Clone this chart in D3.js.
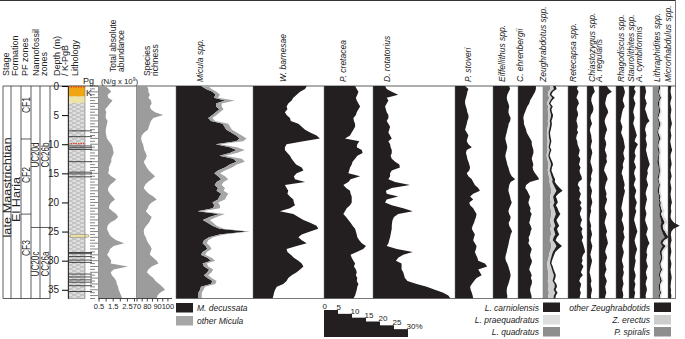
<!DOCTYPE html>
<html>
<head>
<meta charset="utf-8">
<script src="https://cdn.jsdelivr.net/npm/d3@7"></script>
<style>
  body { margin: 0; background: #fff; }
  svg { font-family: "Liberation Sans", Arial, sans-serif; }
</style>
</head>
<body>
<script>
// sample depths (m below K-PgB)
const depths = [0,0.5,1,1.5,2,2.5,3,3.5,4,4.5,5,5.5,6,6.5,7,7.5,8,8.5,9,9.5,
  10,10.5,11,11.5,12,12.5,13,13.5,14,14.5,15,15.5,16,16.5,17,17.5,18,18.5,19,19.5,
  20,20.5,21,21.5,22,22.5,23,23.5,24,24.5,25,25.5,26,26.5,27,27.5,28,28.5,29,29.5,
  30,30.5,31,31.5,32,32.5,33,33.5,34,34.5,35,35.5,36,36.5];

// total absolute abundance (N/g x 10^9)
const abundance = [0.97,1.23,1.4,1.14,1.18,1.49,1.31,1.14,0.97,1.05,
  1.01,1.01,1.14,1.1,1.05,1.01,1.01,1.05,1.1,1.23,
  1.4,1.49,1.53,1.57,1.49,1.4,1.4,1.31,1.23,1.23,
  1.18,1.4,1.75,1.57,1.31,1.18,1.18,1.31,1.49,1.66,
  1.4,1.27,1.23,1.49,1.75,1.88,1.66,1.31,1.14,1.1,
  1.18,1.27,1.44,1.75,2.31,1.57,1.31,1.23,1.1,1.27,
  1.4,1.36,2.57,1.57,1.36,1.44,1.62,1.75,1.79,1.88,
  1.92,2.01,2.09,2.18];

const richness = [80,81.5,81.5,83,81.5,84,84.7,83,84,88,
  96,86.3,84,83,82,81,77.5,75,74.5,75,
  76.3,77,77.5,79,80,79,77,78.3,80,82,
  84.7,88,84.7,81,78.3,77,79,82,86.3,89.6,
  84.7,82,81,79,81.5,84.7,83.5,82,79.5,77.5,
  77,77.5,79,80,81.5,83.5,84.7,83.5,83,86.3,
  89.6,91.2,84.7,81.5,80,83,86.3,88.5,92,95,
  97.7,92.8,90.4,89.6];

// relative abundances (%)
const mDecussata = [9,10.7,13,14.2,13.5,17.5,14.3,14.3,15.5,14.2,
  13,11.5,12.5,16.7,17.3,18,19.7,21.5,22.7,21.5,
  14.2,19.2,21.6,19.2,15.5,20.5,21.6,19.2,17.5,15,
  13.7,15,16.2,14.5,13.8,15,14.5,16.2,15.5,15,
  13,13.7,13.2,7.7,15.5,12,9.6,11.3,13,15.5,
  25.4,15.5,11.8,10,9.5,10.6,11.2,9.5,8.9,11.2,
  12.5,9.5,10,11.8,11.2,10,11.2,13,12.5,8.9,
  8.6,8,8,8];
const otherMicula = [2.5,2,1.5,1.5,1.5,3.5,2,2,1.5,1.5,
  1.5,1.5,1.5,2,2,2,2,2,2.5,2.5,
  1.5,2.5,3,2.5,2,3,3,2.5,2.5,2.5,
  2,2.5,2.5,2.5,2.5,2.5,2.5,2.5,2.5,2.5,
  2,2,2.5,1.5,2,2.5,2.5,2,1.5,1.5,
  1,1.5,1.5,1.5,1.5,1.5,1.5,1.5,1.5,1.5,
  1.5,1.5,1.5,1.5,1.5,1.5,1.5,1.5,1.5,1.5,
  1.2,1.2,1.2,1.2];
const wBarnesae = [19.2,18.6,16.8,15.6,14.4,13.8,12.6,12,12.3,11.4,
  12,13.2,13.5,16.2,17.4,18.6,20.4,22.7,23.9,18,
  12,11.4,11.4,12.3,13.2,13.8,14.6,15.4,17.4,18,
  15.6,14.6,15,18.6,11.4,12,12.6,12.3,13.2,14.4,
  14.6,15,13.2,9.6,14.4,16.2,18,20.4,22.7,23.3,
  20.4,17.4,16.2,17.4,19.2,15.6,12,12.3,13.5,14.6,
  16.2,17.4,18,16.8,15.6,13.8,12.6,12,10.8,8.5,
  7.9,7.5,7.3,7];
const pCretacea = [11.1,11.7,12.3,11.9,11.4,11.7,12.3,12.9,12.3,11.7,
  11.4,10.5,10.7,11.1,11.1,10.5,9.9,9.3,7.5,12.6,
  11.9,11.7,13.5,13.8,11.9,11.1,10.2,9.9,9.3,9,
  8.7,12.9,9.5,8.7,6.9,7.9,9.3,9.5,9.9,9.9,
  9.9,9.3,8.1,7.5,6.9,7.9,8.7,9.5,10.2,11.1,
  11.4,11.7,11.9,12.6,13.5,15,14,11.7,9.5,9.9,
  10.5,11.1,10.7,11.4,11.7,11.4,11.9,11.7,12.3,11.9,
  11.7,11.4,11.1,10.5];
const dRotatorius = [4.3,4.9,6.7,9,4.9,5.5,4.9,4.3,4.6,4.9,
  5.5,5.5,4.9,5.5,6.1,5.8,5.5,6.1,6.7,5.5,
  6.1,6.3,6.7,6.7,6.3,6.7,7.9,9.4,9.6,6.7,
  6.1,6.1,5.5,7.9,13.2,6.7,4.6,4.9,9,4.9,
  4.3,6.7,10.8,14.2,9,7.5,7,6.8,6.7,6.7,
  6.5,6.3,6.1,5.8,5.5,4.9,8.5,14.2,10.8,9,
  8.2,10.2,10.2,10.2,10.8,11.1,11.4,12.3,15.6,19.2,
  22.1,25.1,26.9,27.7];
const pStoveri = [3.6,4.8,4.4,4.2,3.9,3.6,3.6,3.9,4.2,4.4,
  4.8,4.8,4.4,4.2,3.9,3.6,4.2,4.8,4.4,4.2,
  4.8,6,4.2,3.9,4.2,4.4,4.8,5.1,5.4,5.1,
  4.2,4.8,6,6.5,7.1,8.3,8.9,6.5,5.4,6.5,
  5.1,5.4,6.5,7.1,7.7,7.5,7.1,6.8,6.3,6,
  6.5,7.1,6.8,6.5,7.1,7.7,7.5,7.1,7.5,8,
  8.3,10.7,11.5,8.3,8.9,9.5,7.7,6.8,6,5.4,
  5.6,6,6.3,6.5];
const eiffellithus = [5.8,6.1,5.6,5.1,4.9,5.1,5.5,5.8,5.6,5.5,
  5.8,6.3,6.1,5.6,5.4,5.1,4.9,4.6,4.4,4.6,
  4.9,5.1,4.9,4.6,4.4,4.6,4.9,5.1,5.5,5.8,
  6.1,6.7,7.9,6.3,5.8,5.6,5.5,5.8,6.1,6.3,
  6.7,6.3,5.8,5.5,5.8,6.3,6.1,5.6,5.8,6.4,
  6.8,6.3,6.1,5.8,5.6,5.4,5.1,4.9,4.6,4.4,
  4.6,5.1,5.5,5.8,6.1,6.3,6.1,5.8,5.5,5.1,
  4.9,4.9,5.1,5.1];
const cEhrenbergii = [6.4,6.4,6.1,5.5,4.9,4.3,4,3.3,2.9,2.5,
  2.1,1.9,2.1,2.1,2.5,2.9,3.1,3.7,4.3,4.9,
  4.9,5.2,5.5,5.5,5.2,4.9,5.2,5.5,5.2,5.5,
  6.1,6.9,7.6,4.3,2.9,2.6,3.3,3.8,4.3,4,
  3.7,4,4.5,4.3,4.9,4.5,4.3,4,4.5,4.9,
  4.5,4.3,3.8,4,3.7,4.3,4.9,4.6,4.3,4.5,
  5,4.8,4.3,4,4.5,4.9,4.6,5,4.9,4.5,
  4.3,4.5,4.8,4.9];
const pSpiralis = [2.5,2.7,1.9,1.7,2.3,1.8,1.4,1.9,1.7,1.8,
  2.0,1.9,1.7,1.8,1.7,1.5,1.4,1.4,1.5,1.7,
  1.5,1.4,1.7,1.4,1.3,1.5,1.8,2.0,1.8,1.7,
  1.9,2.1,2.4,2.3,2.6,2.8,3.0,2.8,2.5,2.6,
  2.8,2.5,2.7,2.9,3.0,2.8,2.6,2.7,2.9,2.6,
  2.8,2.9,2.6,2.4,2.9,3.0,2.8,2.4,2.2,2.0,
  1.7,1.5,1.6,1.7,1.8,1.9,1.8,1.7,2.0,2.0,
  1.9,2.1,1.9,1.8];
const zErectus = [1.1,1.2,0.9,0.7,1.0,0.8,0.7,0.9,0.7,0.8,
  0.9,0.8,0.7,0.8,0.7,0.7,0.6,0.7,0.7,0.7,
  0.7,0.6,0.7,0.7,0.6,0.7,0.8,0.9,0.8,0.7,
  0.8,0.9,1.0,1.0,1.2,1.5,1.8,1.4,1.1,1.2,
  1.3,1.1,1.3,1.4,1.6,1.4,1.2,1.3,1.5,1.2,
  1.3,1.5,1.2,1.1,1.4,1.8,1.4,1.1,1.0,0.9,
  0.9,1.0,1.3,1.5,1.7,2.0,1.9,1.7,2.1,2.2,
  1.9,2.3,2.0,1.9];
const otherZeugh = [0.9,1.0,0.7,0.6,0.9,0.6,0.5,0.7,0.6,0.6,
  0.7,0.7,0.6,0.6,0.6,0.6,0.5,0.5,0.6,0.6,
  0.5,0.5,0.6,0.5,0.5,0.6,0.7,0.7,0.6,0.6,
  0.7,0.8,0.9,0.9,1.2,1.7,2.2,1.3,1.0,1.2,
  1.2,1.0,1.2,1.3,1.6,1.3,1.0,1.2,1.4,1.2,
  1.2,1.4,1.2,1.0,1.3,2.0,1.3,0.9,0.8,0.7,
  0.6,0.5,0.6,0.6,0.7,0.7,0.7,0.6,0.7,0.8,
  0.7,0.8,0.7,0.7];
const retecapsa = [3.5,3.2,3.8,3.4,3.0,3.6,3.9,3.3,3.1,3.5,
  3.6,3.2,3.0,3.3,3.5,3.2,3.6,3.1,2.9,3.3,
  3.4,3.8,4.2,4.0,3.7,4.4,4.2,3.9,4.5,4.1,
  4.3,4.8,5.0,3.8,3.5,4.2,4.0,4.6,4.3,4.0,
  4.8,4.3,4.9,4.5,4.2,4.6,5.0,4.6,4.4,5.2,
  4.8,5.0,5.4,4.9,5.3,5.6,5.9,6.1,5.4,5.0,
  5.2,4.8,5.5,5.0,4.6,5.3,4.4,4.0,4.7,4.5,
  4.2,4.6,4.3,4.1];
const chiastozygus = [2.2,2.5,2.8,2.0,1.6,1.5,1.8,2.2,2.3,2.0,
  1.4,1.2,1.5,1.8,1.3,1.0,1.2,1.5,1.6,1.8,
  1.5,1.3,1.7,1.9,1.6,1.4,1.2,1.5,1.8,2.0,
  1.7,1.4,1.6,1.3,1.1,1.5,1.8,1.6,1.4,1.7,
  1.9,1.6,1.3,1.5,1.2,1.0,0.9,1.2,1.5,1.3,
  1.6,1.8,1.5,1.3,1.6,1.9,1.7,1.4,1.2,1.5,
  1.8,1.6,1.3,1.1,0.9,1.2,1.4,1.6,1.3,1.5,
  1.8,1.6,1.4,1.5];
const aRegularis = [2.8,3.5,4.6,3.0,2.6,2.4,2.2,2.5,3.0,3.3,
  2.8,2.3,2.0,2.2,2.6,2.9,2.5,2.2,2.0,2.4,
  2.6,2.3,2.1,2.5,2.8,2.6,2.9,2.4,2.0,1.8,
  2.3,2.8,3.1,2.6,2.3,2.1,2.4,2.7,2.5,2.9,
  2.6,2.2,2.0,2.4,2.8,2.5,2.2,2.0,2.3,2.6,
  2.9,2.5,2.7,3.0,3.2,2.8,2.4,2.2,2.6,2.9,
  2.5,2.2,2.4,2.7,2.3,2.0,2.4,2.8,2.5,2.2,
  2.4,2.6,2.3,2.1];
const rhagodiscus = [2.6,2.9,3.2,3.0,2.6,2.4,2.8,3.1,2.5,2.2,
  2.0,1.8,1.6,1.9,2.3,2.1,1.8,2.2,2.6,2.8,
  3.0,3.2,2.9,2.6,2.8,3.1,2.7,2.4,2.6,2.2,
  2.0,2.4,2.6,2.9,3.1,2.8,3.2,3.0,2.7,2.5,
  2.3,2.1,1.9,2.2,2.5,2.3,2.0,2.4,2.7,2.9,
  2.6,2.8,3.1,2.7,2.4,2.2,2.5,2.8,2.6,2.3,
  2.1,2.4,2.7,2.5,2.8,2.6,2.3,2.5,2.7,2.4,
  2.2,2.5,2.6,2.4];
const staurolithites = [2.2,1.8,2.4,2.0,1.6,1.9,2.3,2.0,1.7,1.5,
  1.8,2.0,1.7,1.5,1.9,2.2,2.5,2.8,2.3,2.0,
  3.2,2.6,2.2,2.0,2.4,2.1,1.8,2.2,2.5,2.0,
  1.8,2.1,2.4,2.0,1.7,2.2,2.6,2.3,2.0,2.4,
  2.8,2.5,2.2,2.6,2.3,2.0,1.8,2.1,2.4,2.7,
  3.0,2.6,2.3,2.0,2.2,2.5,2.9,2.6,2.3,2.1,
  2.4,2.2,2.0,1.8,2.1,2.4,2.2,1.9,2.3,2.1,
  1.9,2.2,2.0,1.8];
const aCymbiformis = [1.8,2.0,2.2,1.9,1.7,2.1,2.4,2.0,1.8,2.2,
  2.5,2.8,3.4,2.4,2.0,1.8,2.1,2.3,2.0,2.2,
  2.5,2.3,2.1,2.4,2.6,2.9,3.2,3.5,3.0,2.6,
  2.8,2.5,2.3,2.6,2.9,2.5,2.2,2.0,2.3,2.5,
  2.2,2.0,1.8,2.1,2.3,2.0,1.8,2.1,2.5,2.8,
  2.5,2.2,2.6,2.9,3.4,2.8,2.5,2.3,2.6,2.4,
  2.2,2.5,2.8,2.4,2.1,2.3,2.6,2.2,2.0,2.3,
  2.5,2.2,2.0,2.1];
const lQuadratus = [2.2,2.0,1.8,2.1,2.4,2.0,1.7,1.9,2.2,2.0,
  1.8,1.6,1.9,2.2,2.0,1.7,1.5,1.8,2.1,1.9,
  1.7,1.6,1.8,2.0,1.9,1.7,1.5,1.8,2.0,2.2,
  2.0,1.8,1.6,1.9,2.1,1.8,1.6,1.9,2.2,2.0,
  2.3,2.1,2.4,2.6,2.3,2.5,2.8,3.0,2.6,2.8,
  3.2,3.6,4.2,3.0,2.6,3.4,2.8,2.4,2.6,2.9,
  2.5,2.2,2.4,2.7,2.3,2.1,2.4,2.6,2.2,2.0,
  2.2,2.4,2.1,2.0];
const lCarniolensis = [0.4,0.5,0.4,0.3,0.5,0.4,0.6,0.4,0.3,0.5,
  0.4,0.3,0.4,0.5,0.4,0.3,0.4,0.5,0.6,0.4,
  0.3,0.4,0.5,0.4,0.3,0.4,0.6,0.5,0.4,0.3,
  0.4,0.5,0.4,0.3,0.4,0.5,0.6,0.4,0.5,0.4,
  0.5,0.6,0.5,0.7,0.6,0.8,1.0,1.2,0.9,0.8,
  1.1,1.3,1.6,1.0,0.8,1.2,0.9,0.7,0.6,0.5,
  0.6,0.5,0.4,0.6,0.5,0.4,0.5,0.6,0.4,0.5,
  0.4,0.5,0.4,0.4];
const lPraequadratus = [0.5,0.4,0.6,0.5,0.4,0.6,0.5,0.4,0.5,0.6,
  0.5,0.4,0.5,0.6,0.5,0.4,0.5,0.6,0.5,0.4,
  0.5,0.6,0.5,0.4,0.5,0.6,0.5,0.4,0.5,0.6,
  0.5,0.4,0.5,0.6,0.5,0.4,0.5,0.6,0.5,0.4,
  0.6,0.7,0.8,0.9,0.7,0.8,1.0,0.9,0.8,0.7,
  0.9,1.0,1.2,0.8,0.7,0.9,0.8,0.6,0.5,0.6,
  0.5,0.4,0.5,0.6,0.5,0.4,0.5,0.6,0.5,0.4,
  0.5,0.6,0.5,0.5];
const microrhabdulus = [1.2,1.0,0.9,1.1,1.3,1.0,0.8,1.0,1.2,1.1,
  0.9,1.0,1.2,1.4,1.1,0.9,1.0,1.2,1.0,0.8,
  1.0,1.2,1.5,1.1,0.9,1.0,1.2,1.3,1.0,0.9,
  1.1,1.3,1.0,0.8,1.0,1.2,1.1,0.9,1.0,1.2,
  1.4,1.1,1.0,1.2,1.0,0.9,1.3,2.2,4.2,2.0,
  1.2,1.0,1.1,1.3,1.0,0.9,1.1,1.2,1.0,0.8,
  1.0,1.2,1.1,0.9,1.0,1.2,1.3,1.1,1.0,0.9,
  1.1,1.0,1.2,1.1];

// stratigraphy
const depthTicks = [0, 5, 10, 15, 20, 25, 30, 35];
const pfZones = [{name: 'CF1', top: 0, base: 9.1}, {name: 'CF2', top: 9.1, base: 22}, {name: 'CF3', top: 22, base: 36.5}];
const ncZones = [{uc: 'UC20d', cc: 'CC26b', top: 0, base: 24.3}, {uc: 'UC20c', cc: 'CC26a', top: 24.3, base: 36.5}];
const lithoLines = [7.7, 8.7, 10.3, 10.6, 10.9, 13, 14.8, 15.1, 15.6, 28.6, 28.8, 29.3, 29.9, 30.3, 32.3, 32.8, 33.3, 33.7, 34.3, 35.3];
const scaleSteps = [0, 5, 10, 15, 20, 25, 30];

const black = '#231f20';
const midGrey = '#8e8e8e';
const W = 685, H = 339;

const svg = d3.select('body').append('svg')
  .attr('width', W).attr('height', H);

const defs = svg.append('defs');
const pat = defs.append('pattern').attr('id', 'lith')
  .attr('width', 8).attr('height', 4).attr('patternUnits', 'userSpaceOnUse');
pat.append('rect').attr('width', 8).attr('height', 4).attr('fill', '#c4c4c4');
pat.append('line').attr('x1', 0.5).attr('x2', 4).attr('y1', 1).attr('y2', 1).attr('stroke', '#fff').attr('stroke-width', 0.9);
pat.append('line').attr('x1', 4.5).attr('x2', 8).attr('y1', 3).attr('y2', 3).attr('stroke', '#fff').attr('stroke-width', 0.9);

const yTop = 86, yBot = 298.5;
const y = d3.scaleLinear().domain([0, 36.5]).range([yTop, yBot]);
const pct = d3.scaleLinear().domain([0, 1]).range([0, 2.8]);

// frame
svg.append('line').attr('x1', 0).attr('x2', 675.5).attr('y1', 0.5).attr('y2', 0.5).attr('stroke', '#333');
svg.append('line').attr('x1', 675.5).attr('x2', 675.5).attr('y1', 0).attr('y2', yBot).attr('stroke', '#555').attr('stroke-width', 0.8);
svg.append('line').attr('x1', 3).attr('x2', 675.5).attr('y1', yTop).attr('y2', yTop).attr('stroke', '#333').attr('stroke-width', 0.8);

function vText(x, yy, txt, size, italic) {
  return svg.append('text')
    .attr('transform', `translate(${x},${yy}) rotate(-90)`)
    .attr('font-size', size)
    .attr('font-style', italic ? 'italic' : 'normal')
    .attr('fill', '#222')
    .text(txt);
}
function zoneText(x, cy, txt, len) {
  return vText(x, cy, txt, 10).attr('text-anchor', 'middle')
    .attr('textLength', len).attr('lengthAdjust', 'spacingAndGlyphs');
}

// ---- left stratigraphic columns ----
const colX = [3, 11, 21, 31, 40, 50];
colX.forEach(x => svg.append('line').attr('x1', x).attr('x2', x).attr('y1', yTop).attr('y2', yBot)
  .attr('stroke', '#333').attr('stroke-width', 0.8));
svg.append('line').attr('x1', 3).attr('x2', 50).attr('y1', yBot).attr('y2', yBot).attr('stroke', '#333').attr('stroke-width', 0.8);

[['Stage', 9], ['Formation', 18], ['PF zones', 28], ['Nannofossil', 38.5], ['zones', 46.5]]
  .forEach(([t, x]) => vText(x, 76, t, 9));
[['Depth (m)', 60], ['/ K-PgB', 68], ['Lithology', 78]].forEach(([t, x]) => vText(x, 76, t, 9));

zoneText(10.5, 187.5, 'late Maastrichtian', 100).attr('font-size', 11);
zoneText(20, 199.5, 'El Haria', 45).attr('font-size', 11);
pfZones.forEach((z, i) => {
  if (i > 0) svg.append('line').attr('x1', 21).attr('x2', 31).attr('y1', y(z.top)).attr('y2', y(z.top)).attr('stroke', '#333').attr('stroke-width', 0.8);
});
zoneText(29.5, 105, 'CF1', 16);
zoneText(29.5, 175, 'CF2', 16);
zoneText(29.5, 248, 'CF3', 16);
ncZones.forEach((z, i) => {
  if (i > 0) svg.append('line').attr('x1', 31).attr('x2', 50).attr('y1', y(z.top)).attr('y2', y(z.top)).attr('stroke', '#333').attr('stroke-width', 0.8);
  const cy = i === 0 ? 155 : 264;
  zoneText(39, cy, z.uc, 25);
  zoneText(48.5, cy, z.cc, 25);
});

// ---- depth axis & lithology ----
const lithX = 68, lithW = 17;
svg.append('rect').attr('x', lithX).attr('y', yTop).attr('width', lithW).attr('height', yBot - yTop).attr('fill', 'url(#lith)');
svg.append('rect').attr('x', lithX).attr('y', y(0)).attr('width', lithW).attr('height', y(1.8) - y(0)).attr('fill', '#f0a612');
svg.append('rect').attr('x', lithX).attr('y', y(1.8)).attr('width', lithW).attr('height', y(2.9) - y(1.8)).attr('fill', '#efe3a4');
svg.append('line').attr('x1', lithX).attr('x2', lithX + lithW).attr('y1', y(0.15)).attr('y2', y(0.15))
  .attr('stroke', '#e03a1e').attr('stroke-width', 1.5).attr('stroke-dasharray', '1.5,1');
svg.append('line').attr('x1', lithX).attr('x2', lithX + lithW).attr('y1', y(9.9)).attr('y2', y(9.9))
  .attr('stroke', '#e03a1e').attr('stroke-width', 1.2).attr('stroke-dasharray', '1.5,1');
svg.append('rect').attr('x', lithX + 2).attr('y', y(25.5)).attr('width', lithW + 2).attr('height', y(26) - y(25.5))
  .attr('fill', '#efe3a4').attr('stroke', '#777').attr('stroke-width', 0.5).attr('rx', 1.5);
lithoLines.forEach(d => svg.append('line').attr('x1', lithX).attr('x2', lithX + 24).attr('y1', y(d)).attr('y2', y(d))
  .attr('stroke', '#222').attr('stroke-width', 0.8));
svg.append('rect').attr('x', lithX).attr('y', yTop).attr('width', lithW).attr('height', yBot - yTop)
  .attr('fill', 'none').attr('stroke', '#666').attr('stroke-width', 0.5);

const depthAxis = svg.append('g').attr('transform', `translate(${lithX},0)`)
  .call(d3.axisLeft(y).tickValues(depthTicks).tickSize(6).tickSizeOuter(0));
depthAxis.select('.domain').attr('stroke', '#333');
depthAxis.selectAll('text').attr('font-size', 10).attr('fill', '#222').attr('font-family', '"Liberation Sans", Arial, sans-serif');

// sample ticks
svg.append('g').selectAll('line').data(depths).join('line')
  .attr('x1', 90).attr('x2', (d, i) => i % 2 ? 95 : 98)
  .attr('y1', d => y(d)).attr('y2', d => y(d))
  .attr('stroke', '#333').attr('stroke-width', 0.6);

svg.append('text').attr('x', 83).attr('y', 84).attr('font-size', 9).attr('fill', '#222').text('Pg');
svg.append('text').attr('x', 86).attr('y', 96).attr('font-size', 9).attr('fill', '#222').text('K');

// ---- total abundance & richness ----
const xAb = d3.scaleLinear().domain([0.5, 3]).range([98.5, 134]);
const xRich = d3.scaleLinear().domain([70, 103]).range([136.5, 170.5]);

svg.append('path').datum(depths)
  .attr('d', d3.area().y((d) => y(d)).x0(xAb(0.5)).x1((d, i) => xAb(abundance[i])))
  .attr('fill', '#9c9c9c');
svg.append('path').datum(depths)
  .attr('d', d3.area().y((d) => y(d)).x0(xRich(70)).x1((d, i) => xRich(richness[i])))
  .attr('fill', '#9c9c9c');
[98.5, 136.5].forEach(x => svg.append('line').attr('x1', x).attr('x2', x).attr('y1', yTop).attr('y2', yBot)
  .attr('stroke', '#666').attr('stroke-width', 0.6));

const abAxis = svg.append('g').attr('transform', `translate(0,${yBot})`)
  .call(d3.axisBottom(xAb).tickValues([0.5, 1, 1.5, 2, 2.5, 3]).tickSize(3).tickSizeOuter(0)
    .tickFormat(d => (d * 2) % 2 === 1 ? d : ''));
abAxis.select('.domain').attr('d', `M98.5,0H136.5`);
const richAxis = svg.append('g').attr('transform', `translate(0,${yBot})`)
  .call(d3.axisBottom(xRich).tickValues([70, 75, 80, 85, 90, 95, 100]).tickSize(3).tickSizeOuter(0)
    .tickFormat(d => d % 10 === 0 ? d : ''));
richAxis.select('.domain').attr('d', `M136.5,0H172`);
[abAxis, richAxis].forEach(g => {
  g.selectAll('text').attr('font-size', 7.5).attr('fill', '#222').attr('dy', '0.6em')
    .attr('font-family', '"Liberation Sans", Arial, sans-serif');
  g.selectAll('line, path').attr('stroke', '#444');
});

vText(116, 72, 'Total absolute', 8.5);
vText(124, 72, 'abundance', 8.5);
const unit = svg.append('text').attr('x', 101).attr('y', 84).attr('font-size', 7.8).attr('fill', '#222');
unit.append('tspan').text('(N/g x 10');
unit.append('tspan').attr('font-size', 5).attr('dy', -3).text('9');
unit.append('tspan').attr('dy', 3).text(')');
vText(150, 76, 'Species', 8.5);
vText(158, 76, 'richness', 8.5);

// ---- relative abundance panels ----
const panels = [
  {name: 'Micula spp.', x: 176, lx: 203, layers: [[mDecussata, black], [otherMicula, '#a6a6a6']]},
  {name: 'W. barnesae', x: 253, lx: 286, layers: [[wBarnesae, black]]},
  {name: 'P. cretacea', x: 324, lx: 346, layers: [[pCretacea, black]]},
  {name: 'D. rotatorius', x: 373, lx: 390, layers: [[dRotatorius, black]]},
  {name: 'P. stoveri', x: 455, lx: 471, layers: [[pStoveri, black]]},
  {name: 'Eiffellithus spp.', x: 493, lx: 505, layers: [[eiffellithus, black]]},
  {name: 'C. ehrenbergii', x: 518, lx: 523, layers: [[cEhrenbergii, black]]},
  {name: 'Zeughrabdotus spp.', x: 543, lx: 546, layers: [[pSpiralis, midGrey], [zErectus, '#cdcdcd'], [otherZeugh, black]]},
  {name: 'Retecapsa spp.', x: 568, lx: 576, layers: [[retecapsa, black]]},
  {name: 'Chiastozygus spp.', x: 587, lx: 594.5, layers: [[chiastozygus, black]]},
  {name: 'A. regularis', x: 599, lx: 602, layers: [[aRegularis, black]]},
  {name: 'Rhagodiscus spp.', x: 616, lx: 624, layers: [[rhagodiscus, black]]},
  {name: 'Staurolithites spp.', x: 629, lx: 634, layers: [[staurolithites, black]]},
  {name: 'A. cymbiformis', x: 640, lx: 642, layers: [[aCymbiformis, black]]},
  {name: 'Lithraphidites spp.', x: 653, lx: 660, layers: [[lQuadratus, midGrey], [lCarniolensis, black], [lPraequadratus, '#dedede']]},
  {name: 'Microrhabdulus spp.', x: 668, lx: 670.5, layers: [[microrhabdulus, black]]}
];

panels.forEach(p => {
  const keys = p.layers.map((l, k) => 'k' + k);
  const rows = depths.map((d, i) => {
    const r = {depth: d};
    p.layers.forEach((l, k) => { r['k' + k] = l[0][i]; });
    return r;
  });
  const stacked = d3.stack().keys(keys)(rows);
  const area = d3.area()
    .y(d => y(d.data.depth))
    .x0(d => p.x + pct(d[0]))
    .x1(d => p.x + pct(d[1]));
  stacked.forEach((s, k) => {
    svg.append('path').datum(s).attr('d', area).attr('fill', p.layers[k][1]);
  });
  svg.append('line').attr('x1', p.x).attr('x2', p.x).attr('y1', yTop).attr('y2', yBot)
    .attr('stroke', '#777').attr('stroke-width', 0.5);
  vText(p.lx, 82, p.name, 8.5, true);
});
svg.append('line').attr('x1', 176).attr('x2', 675.5).attr('y1', yBot).attr('y2', yBot).attr('stroke', '#555').attr('stroke-width', 0.8);

// ---- legends ----
function legendRow(bx, by, color, label, anchorEnd) {
  svg.append('rect').attr('x', bx).attr('y', by).attr('width', 17).attr('height', 9.5).attr('fill', color);
  svg.append('text')
    .attr('x', anchorEnd ? bx - 4 : bx + 21).attr('y', by + 8)
    .attr('text-anchor', anchorEnd ? 'end' : 'start')
    .attr('font-size', 8.5).attr('font-style', 'italic').attr('fill', '#222')
    .text(label);
}
legendRow(176, 303, black, 'M. decussata');
legendRow(176, 316, '#a6a6a6', 'other Micula');
legendRow(543, 302.5, black, 'L. carniolensis', true);
legendRow(543, 315, '#dedede', 'L. praequadratus', true);
legendRow(543, 327, midGrey, 'L. quadratus', true);
legendRow(654, 302.5, black, 'other Zeughrabdotids', true);
legendRow(654, 315, '#cdcdcd', 'Z. erectus', true);
legendRow(654, 327, midGrey, 'P. spiralis', true);

// percentage scale bar
const xs = d3.scaleLinear().domain([0, 30]).range([324, 408]);
const stepTop = d3.scaleLinear().domain([0, 30]).range([310, 333]);
const stepBase = 337;
scaleSteps.slice(0, -1).forEach((v, i) => {
  const v2 = scaleSteps[i + 1];
  svg.append('rect').attr('x', xs(v)).attr('y', stepTop(v)).attr('width', xs(v2) - xs(v))
    .attr('height', stepBase - stepTop(v)).attr('fill', black);
});
scaleSteps.forEach((v, i) => {
  svg.append('text').attr('x', xs(v) - 1.5).attr('y', i === 0 ? 308.5 : stepTop(v) - 4)
    .attr('font-size', 8).attr('fill', '#222')
    .text(v === 30 ? '30%' : v);
});
</script>
</body>
</html>
